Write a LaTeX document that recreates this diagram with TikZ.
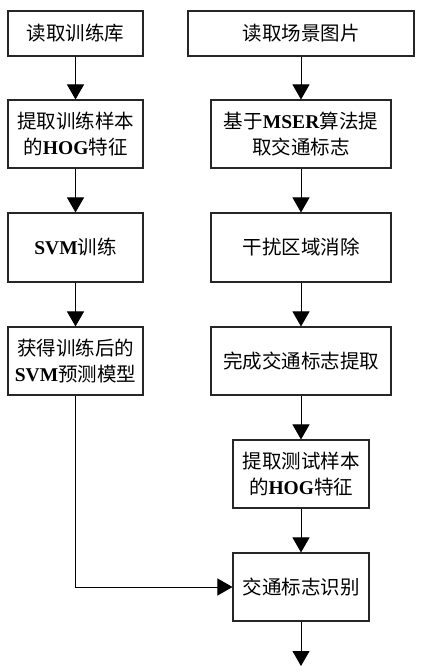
\documentclass[tikz,border=0pt]{standalone}
\usepackage{fontspec}
\setmainfont{Liberation Serif}
\newfontfamily\zhfont{Noto Sans CJK SC}
\newcommand{\zh}[1]{{\zhfont #1}}
\usetikzlibrary{arrows.meta}
\begin{document}
\begin{tikzpicture}[x=1pt,y=-1pt,
  box/.style={draw=black!85, line width=1.1pt, rectangle, inner sep=0pt, align=center,
    font=\fontsize{19.5}{26}\selectfont},
  arr/.style={draw=black, line width=0.9pt, -{Triangle[width=17pt,length=15pt]}}]
\useasboundingbox[fill=white] (0,0) rectangle (426,672);
% left column
\node[box, minimum width=135pt, minimum height=45pt] (L1) at (75.5,33.5) {\zh{读取训练库}};
\node[box, minimum width=135pt, minimum height=68pt] (L2) at (75.5,134) {\zh{提取训练样本}\\\zh{的}\textbf{HOG}\zh{特征}};
\node[box, minimum width=135pt, minimum height=69pt] (L3) at (75.5,247.5) {\textbf{SVM}\zh{训练}};
\node[box, minimum width=135pt, minimum height=68pt] (L4) at (75.5,361) {\zh{获得训练后的}\\\textbf{SVM}\zh{预测模型}};
% right column
\node[box, minimum width=226pt, minimum height=45pt] (R1) at (301,33.5) {\zh{读取场景图片}};
\node[box, minimum width=180pt, minimum height=68pt] (R2) at (301,134) {\zh{基于}\textbf{MSER}\zh{算法提}\\\zh{取交通标志}};
\node[box, minimum width=180pt, minimum height=69pt] (R3) at (301,247.5) {\zh{干扰区域消除}};
\node[box, minimum width=180pt, minimum height=68pt] (R4) at (301,361) {\zh{完成交通标志提取}};
\node[box, minimum width=136pt, minimum height=68pt] (R5) at (301,474) {\zh{提取测试样本}\\\zh{的}\textbf{HOG}\zh{特征}};
\node[box, minimum width=136pt, minimum height=68pt] (R6) at (301,587) {\zh{交通标志识别}};
\coordinate (E) at (301,666);
% connectors
\draw[arr] (L1) -- (L2);
\draw[arr] (L2) -- (L3);
\draw[arr] (L3) -- (L4);
\draw[arr] (L4.south) |- (R6.west);
\draw[arr] (R1) -- (R2);
\draw[arr] (R2) -- (R3);
\draw[arr] (R3) -- (R4);
\draw[arr] (R4) -- (R5);
\draw[arr] (R5) -- (R6);
\draw[arr] (R6) -- (E);
\end{tikzpicture}
\end{document}
